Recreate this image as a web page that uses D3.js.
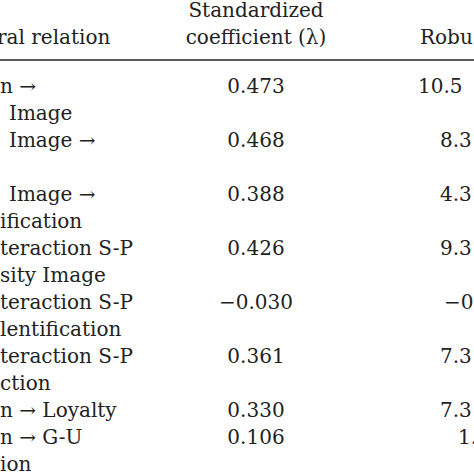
<!DOCTYPE html>
<html><head><meta charset="utf-8">
<script src="https://cdn.jsdelivr.net/npm/d3@7"></script>
<style>body{margin:0;background:#fff}</style></head>
<body><svg id="c" width="474" height="474"></svg>
<script>
const headers = [["ral relation"], ["Standardized","coefficient (λ)"], ["Robu"]];
const relations = [["n →","Image"],["Image →"],["Image →","ification"],["teraction S-P","sity Image"],["teraction S-P","lentification"],["teraction S-P","ction"],["n → Loyalty"],["n → G-U","ion"]];
const relStartX = [[0,9],[9],[9,0],[0,0],[0,0],[0,0],[0],[0,0]];
const coefficients = [0.473,0.468,0.388,0.426,-0.030,0.361,0.330,0.106];
const robust = ["10.5","8.31","4.31","9.31","−0.6","7.31","7.3","1.9"];
const robustX = [418,440,440,440,444,440,440,458];
const rowLine = [0,2,4,6,8,10,12,13]; // line index of each row

const svg = d3.select("#c");
const font = "DejaVu Serif", fs = 20, col = "#222";
const y = d3.scaleLinear().domain([0,1]).range([93,120]); // line index -> baseline
const t = (x,yy,s,anchor="start") => svg.append("text").attr("x",x).attr("y",yy).attr("text-anchor",anchor)
  .attr("font-family",font).attr("font-size",fs).attr("fill",col).text(s);

t(-3,44,headers[0][0]);
t(256,17,headers[1][0],"middle");
t(256,44,headers[1][1],"middle");
t(420,44,headers[2][0]);
svg.append("line").attr("x1",0).attr("x2",474).attr("y1",60).attr("y2",60).attr("stroke",col).attr("stroke-width",1.6);

const fmt = v => (v<0?"−":"") + d3.format(".3f")(Math.abs(v));
relations.forEach((lines,i)=>{
  lines.forEach((s,j)=>t(relStartX[i][j], y(rowLine[i]+j), s));
  t(256, y(rowLine[i]), fmt(coefficients[i]), "middle");
  t(robustX[i], y(rowLine[i]), robust[i]);
});
</script></body></html>
